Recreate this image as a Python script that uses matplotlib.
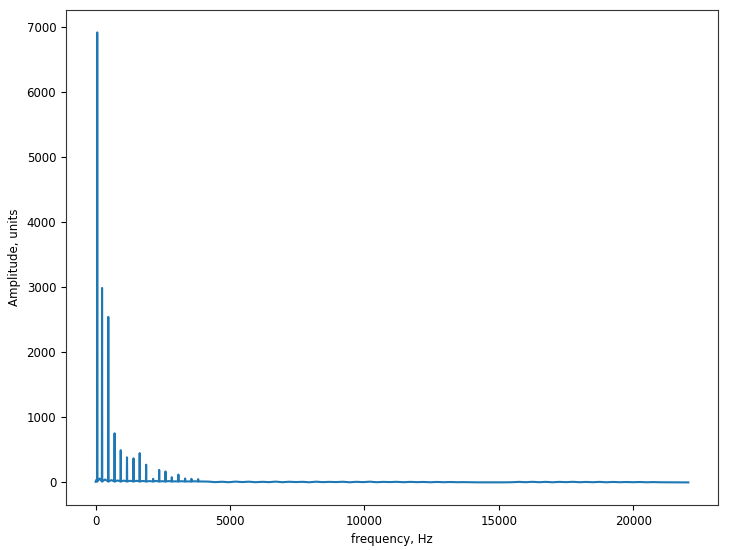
import numpy as np
import matplotlib
matplotlib.use("Agg")
import matplotlib.pyplot as plt

# harmonic peaks (Hz, amplitude)
peak_freqs = [60, 240, 472, 706, 935, 1168, 1410, 1640, 1880, 2140, 2365, 2600,
              2835, 3080, 3330, 3565, 3815]
peak_amps = [6920, 2990, 2545, 755, 495, 385, 370, 450, 272, 55, 192, 168,
             80, 120, 60, 55, 50]

# noise floor between the peaks and up to Nyquist (Hz, amplitude)
floor_freqs = [0, 30, 150, 350, 590, 820, 1050, 1290, 1520, 1760, 2010, 2250,
               2480, 2720, 2960, 3200, 3450, 3690, 3950,
               4200, 4450, 4700, 4950, 5200, 5450, 5700, 5950, 6200, 6450,
               6700, 6950, 7200, 7450, 7700, 7950, 8200, 8450, 8700, 8950,
               9200, 9450, 9700, 9950, 10200, 10450, 10700, 10950, 11200,
               11450, 11700, 11950, 12200, 12450, 12700, 12950, 13200, 13450,
               13700, 14200, 14700, 15200, 15500, 15750, 16000, 16250, 16500,
               16750, 17000, 17250, 17500, 17750, 18000, 18250, 18500, 18750,
               19000, 19250, 19500, 19750, 20000, 20250, 20500, 20750, 21000,
               21500, 22050]
floor_amps = [10, 40, 60, 45, 35, 30, 28, 25, 25, 22, 20, 22,
              18, 20, 16, 18, 15, 17, 14,
              12, 4, 10, 3, 12, 5, 11, 3, 9, 4,
              12, 3, 10, 5, 9, 2, 11, 4, 8, 5,
              10, 2, 9, 4, 11, 3, 8, 5, 9,
              3, 8, 4, 7, 2, 7, 3, 6, 3,
              4, 1, 1, 1, 3, 8, 3, 9, 3,
              8, 2, 8, 4, 9, 3, 7, 3, 8,
              2, 7, 3, 6, 3, 6, 2, 5, 2,
              1, 0]

# build spectrum line: floor points plus a narrow spike at each peak
pts = list(zip(floor_freqs, floor_amps))
for f, a in zip(peak_freqs, peak_amps):
    pts += [(f - 8, 15), (f, a), (f + 8, 15)]
pts.sort()
freq = np.array([p[0] for p in pts])
amp = np.array([p[1] for p in pts])

plt.rcParams['font.size'] = 8.5
fig = plt.figure(figsize=(7.33, 5.5), dpi=100)
ax = fig.add_axes([0.090, 0.082, 0.8895, 0.900])
ax.plot(freq, amp, color='#1f77b4', linewidth=1.5)
ax.set_xlabel('frequency, Hz')
ax.set_ylabel('Amplitude, units')
ax.set_xticks([0, 5000, 10000, 15000, 20000])
for s in ax.spines.values():
    s.set_color('#333333')

fig.savefig('out.png', dpi=100)
